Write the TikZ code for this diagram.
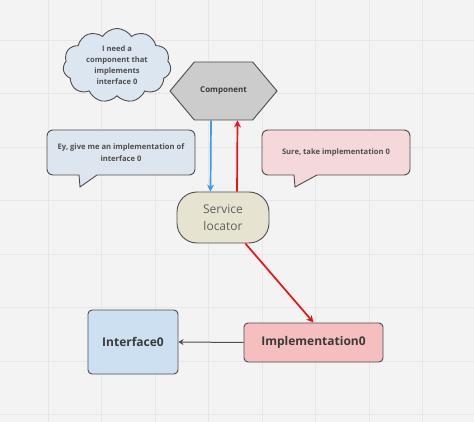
\documentclass[tikz,border=0pt]{standalone}
\usepackage{fontspec}
\setmainfont{Open Sans}
\usetikzlibrary{shapes.symbols,shapes.misc,arrows.meta,calc}
\definecolor{bgc}{HTML}{F3F3F3}
\definecolor{gridc}{HTML}{E7E7E7}
\definecolor{edgec}{HTML}{4D4D4D}
\definecolor{textc}{HTML}{3A3A3A}
\definecolor{cloudc}{HTML}{DCE6F0}
\definecolor{askc}{HTML}{DDE6EE}
\definecolor{surec}{HTML}{F5D8D9}
\definecolor{compc}{HTML}{CCCCCC}
\definecolor{locc}{HTML}{E6E3D1}
\definecolor{ifacec}{HTML}{CCE0F2}
\definecolor{implc}{HTML}{F5BFC0}
\definecolor{bluec}{HTML}{3B9BE8}
\definecolor{redc}{HTML}{EE1111}

\begin{document}
\begin{tikzpicture}[x=1pt,y=-1pt,
  box/.style={draw=edgec,line width=0.9pt,text=textc},
  small/.style={font=\bfseries\fontsize{7.6}{11.8}\selectfont,text=textc!90,align=center},
  big/.style={font=\bfseries\fontsize{12}{14}\selectfont},
  flow/.style={line width=1.7pt,-{Stealth[length=7pt,width=7pt]}}]
 \useasboundingbox (0,0) rectangle (474,422);
 \fill[bgc] (0,0) rectangle (474,422);
 % grid
 \foreach \x in {48,101.5,...,430} {
  \draw[gridc,line width=0.5pt] (\x,0) -- (\x,422);
 }
 \foreach \y in {40,93.5,...,420} {
  \draw[gridc,line width=0.5pt] (0,\y) -- (474,\y);
 }

 % speech bubbles
 \draw[box,fill=askc] (79,175) [rounded corners=6pt] -- (47,175) -- (47,130) -- (195,130) -- (195,175) [sharp corners] -- (97,175) -- (80,187) -- cycle;
 \draw[box,fill=surec] (294,175) [rounded corners=6pt] -- (262,175) -- (262,130) -- (410,130) -- (410,175) [sharp corners] -- (317,175) -- (295,187) -- cycle;
 \node[small] (ask) at (121,152.5) {Ey, give me an implementation of\\interface 0};
 \node[small] (sure) at (336,152.5) {Sure, take implementation 0};

 % nodes
 \node[box,cloud,cloud puffs=11,cloud puff arc=115,fill=cloudc,minimum width=108pt,minimum height=74pt,inner sep=-9pt,small,font=\bfseries\fontsize{7.6}{11}\selectfont] (need) at (117,65.5) {I need a\\component that\\implements\\interface 0};
 \node[box,signal,signal to=west and east,signal pointer angle=100,fill=compc,minimum width=107pt,minimum height=58pt,inner sep=0pt,font=\bfseries\fontsize{8}{9}\selectfont] (comp) at (223.5,91) {Component};
 \node[box,rectangle,rounded corners=20pt,fill=locc,minimum width=92pt,minimum height=51pt,align=center,text=edgec!90,font=\fontsize{12}{17}\selectfont] (loc) at (223,217.5) {Service\\locator};
 \node[box,rectangle,rounded corners=4pt,fill=ifacec,minimum width=90pt,minimum height=64pt,big] (iface) at (133,342) {Interface0};
 \node[box,rectangle,rounded corners=4pt,fill=implc,minimum width=139pt,minimum height=39pt,big] (impl) at (313.5,342.5) {Implementation0};

 % arrows
 \draw[flow,bluec] ($(comp.south)+(-12.5,0)$) -- ($(loc.north)+(-12.5,0)$);
 \draw[flow,redc] ($(loc.north)+(14,0)$) -- ($(comp.south)+(14,0)$);
 \draw[flow,redc] (loc) -- (impl.north);
 \draw[edgec,line width=1pt,-{Stealth[length=5pt,width=6pt]}] (impl.west) -- (iface.east);
\end{tikzpicture}
\end{document}
